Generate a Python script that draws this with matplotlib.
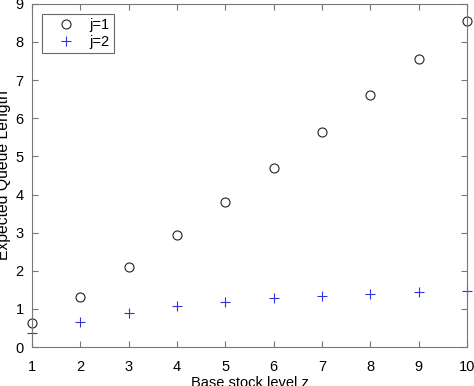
import matplotlib
matplotlib.use("Agg")
import matplotlib.pyplot as plt

z = [1, 2, 3, 4, 5, 6, 7, 8, 9, 10]
j1 = [0.62, 1.31, 2.09, 2.93, 3.80, 4.70, 5.64, 6.60, 7.56, 8.55]
j2 = [0.37, 0.66, 0.89, 1.07, 1.19, 1.29, 1.35, 1.40, 1.43, 1.46]

plt.rcParams['font.family'] = ['Liberation Sans', 'DejaVu Sans']
fig = plt.figure(figsize=(4.74, 3.86), dpi=100)
ax = fig.add_axes([0.0675, 0.101, 0.918, 0.889])
ax.plot(z, j1, linestyle='none', marker='o', markersize=6.5, markerfacecolor='none',
        markeredgecolor='#222222', markeredgewidth=0.8, label='j=1', clip_on=False)
ax.plot(z, j2, linestyle='none', marker='+', markersize=7, color='#3333dd',
        markeredgewidth=0.8, label='j=2', clip_on=False)
ax.set_xlim(1, 10)
ax.set_ylim(0, 9)
ax.set_xticks(range(1, 11))
ax.set_yticks(range(0, 10))
ax.tick_params(direction='in', top=True, right=True, labelsize=10.5, length=4,
               color='#777777', width=0.8)
ax.tick_params(axis='x', pad=9)
ax.tick_params(axis='y', pad=6)
for s in ax.spines.values():
    s.set_color('#777777')
    s.set_linewidth(0.8)
ax.set_xlabel('Base stock level z', fontsize=10.5, labelpad=2)
ax.set_ylabel('Expected Queue Length', fontsize=11.3, labelpad=3)
leg = ax.legend(loc='upper left', fontsize=10.5, frameon=True, fancybox=False,
                edgecolor='#444444', borderaxespad=0.7, handlelength=2.7,
                handletextpad=0.25, borderpad=0.3, labelspacing=0.15)
leg.get_frame().set_linewidth(0.8)
fig.savefig('out.png', dpi=100)
